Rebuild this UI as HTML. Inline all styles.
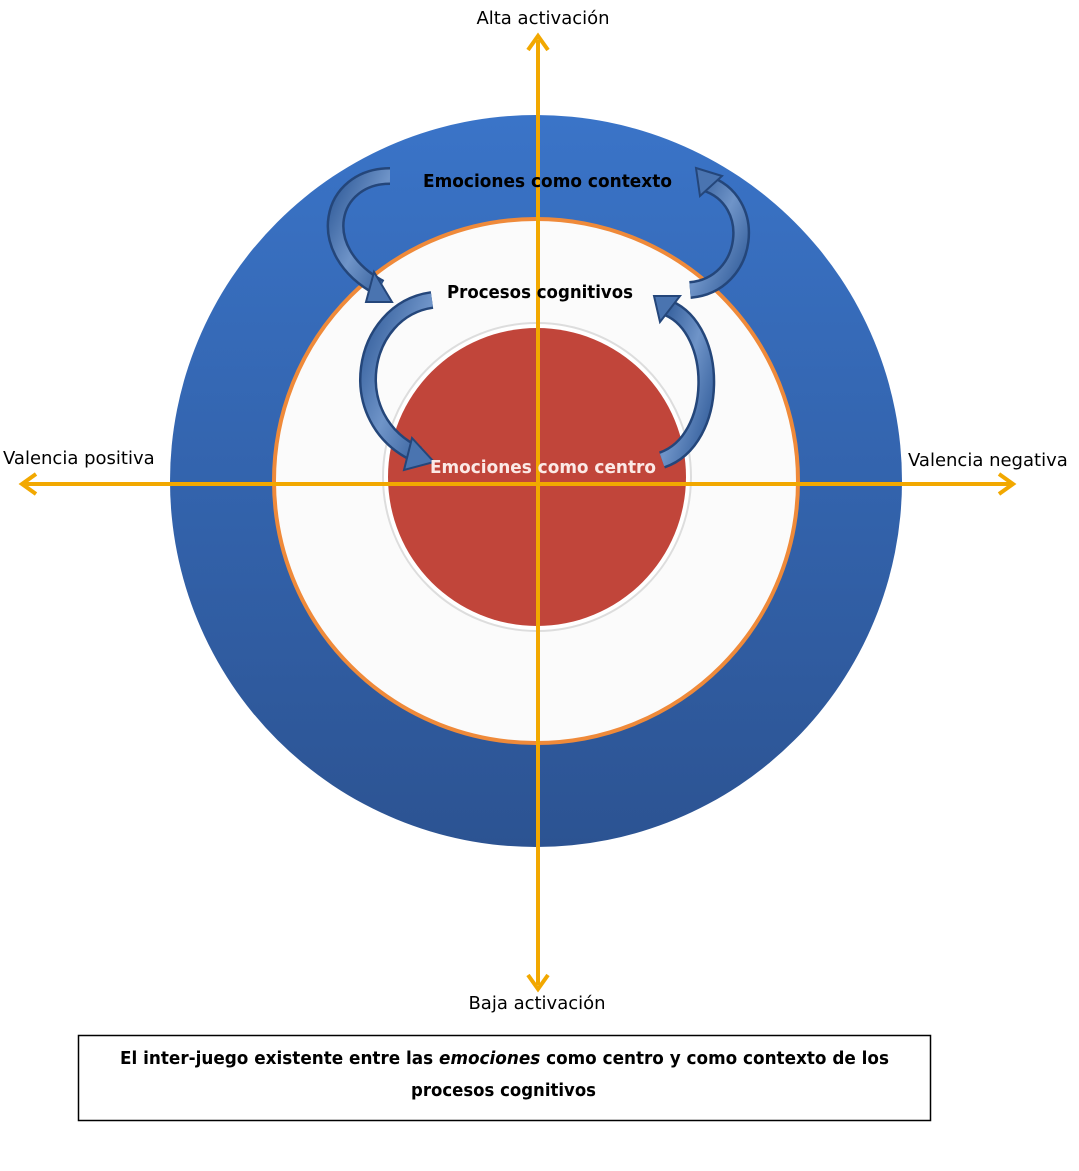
<!DOCTYPE html>
<html><head><meta charset="utf-8"><style>
body{margin:0;background:#fff;width:1079px;height:1171px;overflow:hidden;font-family:"Liberation Sans","DejaVu Sans",sans-serif}
svg{position:absolute;left:0;top:0}
.t{font-family:"DejaVu Sans","Liberation Sans",sans-serif}
</style></head><body>
<svg width="1079" height="1171" viewBox="0 0 1079 1171">
<defs>
<linearGradient id="bg" x1="0" y1="0" x2="0" y2="1">
<stop offset="0" stop-color="#3a74c8"/><stop offset="1" stop-color="#2c5392"/></linearGradient>
<linearGradient id="ag" x1="0" y1="0" x2="1" y2="1">
<stop offset="0" stop-color="#2f5a98"/><stop offset="0.5" stop-color="#6f94c8"/><stop offset="1" stop-color="#2f5a98"/></linearGradient>
</defs>
<circle cx="536" cy="481" r="366" fill="url(#bg)"/>
<circle cx="536" cy="481" r="262" fill="#fbfbfb" stroke="#ef8a3a" stroke-width="4"/>
<circle cx="537" cy="477" r="154" fill="#fff" stroke="#ddd" stroke-width="2"/>
<circle cx="537" cy="477" r="149" fill="#c1453a"/>
<g fill="none" stroke-linecap="butt">
<path d="M390 176 C330 176 310 250 380 288" stroke="#24467a" stroke-width="18"/>
<path d="M390 176 C330 176 310 250 380 288" stroke="url(#ag)" stroke-width="13"/>
<path d="M690 290 C750 285 760 200 705 183" stroke="#24467a" stroke-width="18"/>
<path d="M690 290 C750 285 760 200 705 183" stroke="url(#ag)" stroke-width="13"/>
<path d="M432 300 C360 310 340 420 418 455" stroke="#24467a" stroke-width="18"/>
<path d="M432 300 C360 310 340 420 418 455" stroke="url(#ag)" stroke-width="13"/>
<path d="M662 460 C720 440 720 330 668 308" stroke="#24467a" stroke-width="18"/>
<path d="M662 460 C720 440 720 330 668 308" stroke="url(#ag)" stroke-width="13"/>
</g>
<g fill="#4a74b0" stroke="#24467a" stroke-width="2">
<polygon points="374,272 392,302 366,302"/>
<polygon points="696,168 722,176 700,196"/>
<polygon points="412,438 434,462 404,470"/>
<polygon points="654,296 680,296 660,322"/>
</g>
<g stroke="#f2a800" stroke-width="4" fill="none">
<line x1="538" y1="40" x2="538" y2="985"/>
<line x1="25" y1="484" x2="1010" y2="484"/>
<polyline points="528,50 538,36 548,50"/>
<polyline points="528,975 538,989 548,975"/>
<polyline points="36,474 22,484 36,494"/>
<polyline points="999,474 1013,484 999,494"/>
</g>
<g class="t" font-size="18" fill="#000">
<text x="543" y="24" text-anchor="middle">Alta activación</text>
<text x="537" y="1009" text-anchor="middle">Baja activación</text>
<text x="3" y="464">Valencia positiva</text>
<text x="908" y="466">Valencia negativa</text>
</g>
<g class="t" font-size="18" font-weight="bold">
<text x="423" y="187" textLength="249" lengthAdjust="spacingAndGlyphs" fill="#000">Emociones como contexto</text>
<text x="447" y="298" textLength="186" lengthAdjust="spacingAndGlyphs" fill="#000">Procesos cognitivos</text>
<text x="430" y="473" textLength="226" lengthAdjust="spacingAndGlyphs" fill="#fbe9e6">Emociones como centro</text>
</g>
<rect x="78.5" y="1035.5" width="852" height="85" fill="#fff" stroke="#000" stroke-width="1.5"/>
<g class="t" font-size="18" font-weight="bold">
<text x="120" y="1064" textLength="769" lengthAdjust="spacingAndGlyphs">El inter-juego existente entre las <tspan font-style="italic">emociones</tspan> como centro y como contexto de  los</text>
<text x="411" y="1096" textLength="185" lengthAdjust="spacingAndGlyphs">procesos cognitivos</text>
</g>
</svg>
</body></html>
